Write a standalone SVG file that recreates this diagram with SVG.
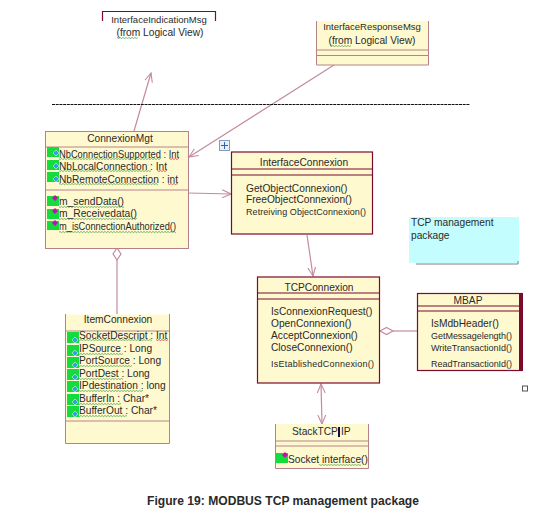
<svg xmlns="http://www.w3.org/2000/svg" width="555" height="521" viewBox="0 0 555 521">
<style>
text{font-family:"Liberation Sans",Arial,sans-serif;font-size:10.200px;fill:#2a2a2a}
.c{text-anchor:middle}
.box{fill:#fff9cf;stroke:#b5828c;stroke-width:1}
.dk{fill:#fff9cf;stroke:#7a0a30;stroke-width:1.2}
.dv{stroke:#b5828c;stroke-width:1;fill:none}
.dd{stroke:#7a0a30;stroke-width:1.2;fill:none}
.ln{stroke:#c48a9f;stroke-width:1.2;fill:none}
.g{fill:#14dc3c}
.b{fill:#30a0e0;stroke:#fff;stroke-width:.5}
.m{fill:#c010b0}
.w{fill:url(#wg)}
.r{fill:url(#wr)}
.s{font-size:9px}
</style>
<defs>
<marker id="a" markerWidth="10" markerHeight="10" refX="9" refY="5" orient="auto-start-reverse" markerUnits="userSpaceOnUse"><path d="M0,1 L9,5 L0,9" fill="none" stroke="#c48a9f" stroke-width="1.1"/></marker>
<path id="bi" d="M0,-3 L3,0 L0,3 L-3,0Z"/>
<pattern id="wg" patternUnits="userSpaceOnUse" width="3" height="2"><path d="M0,1.500 L1.500,.5 L3,1.500" fill="none" stroke="#3a9a3a" stroke-width=".7"/></pattern>
<pattern id="wr" patternUnits="userSpaceOnUse" width="3" height="2"><path d="M0,1.500 L1.500,.5 L3,1.500" fill="none" stroke="#d02020" stroke-width=".7"/></pattern>
</defs>
<rect width="555" height="521" fill="#fff"/>
<g id="connectors">
<path class="ln" d="M134,131 L151,73" marker-end="url(#a)"/>
<path class="ln" d="M334,65 L189,157" marker-end="url(#a)"/>
<path class="ln" d="M188,193 L231,194" marker-end="url(#a)"/>
<path class="ln" d="M307,235 L313,276" marker-end="url(#a)"/>
<path class="ln" d="M117,260 V314"/>
<path class="ln" d="M117,248 L121,254 L117,260 L113,254Z" fill="#fff"/>
<path class="ln" d="M393,331 H417"/>
<path class="ln" d="M380,331 L386.500,327.500 L393,331 L386.500,334.500Z" fill="#fff"/>
<path class="ln" d="M321,384 L322,424" marker-start="url(#a)" marker-end="url(#a)"/>
</g>
<path id="divider" d="M52,104.500 H470" stroke="#111" stroke-width="1" stroke-dasharray="3 .7" fill="none"/>
<g id="InterfaceIndicationMsg">
<path class="dd" d="M102.500,21 V11.500 H215.500 V21"/>
<text class="c" x="159" y="23" style="font-size:9.500px">InterfaceIndicationMsg</text>
<rect class="w" x="117" y="37" width="21" height="2"/>
<text class="c" x="160" y="36">(from Logical View)</text>
</g>
<g id="InterfaceResponseMsg">
<rect x="317" y="21" width="111" height="44" fill="#fff9cf"/>
<path class="dv" d="M316.500,21 V65 H428.500 V21 M316.500,50 H428.500 M316.500,55.500 H428.500"/>
<text class="c" x="372" y="30" style="font-size:9.500px">InterfaceResponseMsg</text>
<rect class="w" x="330" y="45" width="21" height="2"/>
<text class="c" x="372" y="44">(from Logical View)</text>
</g>
<g id="ConnexionMgt">
<rect class="box" x="45.500" y="131.500" width="143" height="117"/>
<path class="dv" d="M45.500,147 H188.500 M45.500,190 H188.500"/>
<text class="c" x="120" y="142">ConnexionMgt</text>
<rect class="g" x="47" y="147" width="12" height="10"/><rect class="g" x="47" y="160" width="12" height="10"/><rect class="g" x="47" y="172" width="12" height="10"/>
<use href="#bi" class="b" x="56" y="153"/><use href="#bi" class="b" x="56" y="166"/><use href="#bi" class="b" x="56" y="179"/>
<rect class="w" x="59" y="158" width="102" height="2"/><rect class="r" x="169" y="158" width="10" height="2"/>
<rect class="w" x="59" y="170" width="92" height="2"/><rect class="r" x="157" y="170" width="10" height="2"/>
<rect class="w" x="59" y="183" width="99" height="2"/><rect class="r" x="168" y="183" width="10" height="2"/>
<text x="59" y="157.500" textLength="120" lengthAdjust="spacingAndGlyphs">NbConnectionSupported : Int</text>
<text x="59" y="169.500" textLength="108" lengthAdjust="spacingAndGlyphs">NbLocalConnection : Int</text>
<text x="59" y="182.500" textLength="119" lengthAdjust="spacingAndGlyphs">NbRemoteConnection : int</text>
<rect class="g" x="47" y="196" width="12" height="10"/><rect class="g" x="47" y="209" width="12" height="10"/><rect class="g" x="47" y="221" width="12" height="9"/>
<use href="#bi" class="m" x="55" y="198"/><use href="#bi" class="m" x="55" y="211"/><use href="#bi" class="m" x="55" y="223"/>
<rect class="w" x="59" y="206" width="65" height="2"/><rect class="w" x="59" y="218" width="78" height="2"/><rect class="w" x="59" y="231" width="117" height="2"/>
<text x="59" y="205" textLength="65" lengthAdjust="spacingAndGlyphs">m_sendData()</text>
<text x="59" y="217" textLength="78" lengthAdjust="spacingAndGlyphs">m_Receivedata()</text>
<text x="59" y="230" textLength="117" lengthAdjust="spacingAndGlyphs">m_isConnectionAuthorized()</text>
</g>
<g id="moveHandle">
<rect x="219.500" y="140.500" width="10" height="10" fill="#e8eef8" stroke="#8899bb"/>
<path d="M224.500,142 V149 M221,145.500 H228" stroke="#3060b0" stroke-width="1"/>
</g>
<g id="InterfaceConnexion">
<rect class="dk" x="231.500" y="152" width="141" height="82"/>
<path class="dd" d="M231.500,169 H372.500 M231.500,175 H372.500"/>
<text class="c" x="304" y="166">InterfaceConnexion</text>
<text x="246" y="192">GetObjectConnexion()</text>
<text x="246" y="203">FreeObjectConnexion()</text>
<text x="246" y="215" class="s" textLength="120">Retreiving ObjectConnexion()</text>
</g>
<g id="note">
<rect x="409" y="217" width="110" height="46" fill="#c4fdfd"/>
<path d="M416,264 H518 V261" stroke="#8a7a8a" fill="none"/>
<text x="411" y="226">TCP management</text>
<text x="411" y="239">package</text>
</g>
<g id="TCPConnexion">
<rect class="dk" x="257.500" y="277" width="122" height="106"/>
<path class="dd" d="M257.500,293 H379.500 M257.500,299 H379.500"/>
<text class="c" x="319" y="291">TCPConnexion</text>
<text x="271" y="315">IsConnexionRequest()</text>
<text x="271" y="327">OpenConnexion()</text>
<text x="271" y="339">AcceptConnexion()</text>
<text x="271" y="351">CloseConnexion()</text>
<text x="271" y="367" class="s" textLength="103">IsEtablishedConnexion()</text>
</g>
<g id="MBAP">
<rect class="dk" x="417.500" y="293.500" width="104" height="77"/>
<rect x="519" y="293" width="4" height="78" fill="#7a0a30"/>
<path class="dd" d="M417.500,306 H520 M417.500,311 H520"/>
<text class="c" x="468" y="304">MBAP</text>
<text x="431" y="327">IsMdbHeader()</text>
<text x="431" y="339" class="s" textLength="81">GetMessagelength()</text>
<text x="431" y="351" class="s" textLength="81">WriteTransactionId()</text>
<text x="431" y="367" class="s" textLength="81">ReadTransactionId()</text>
<rect x="522.500" y="386" width="5" height="5" fill="#fff" stroke="#555"/>
</g>
<g id="ItemConnexion">
<rect x="65.500" y="314.500" width="104" height="129" fill="#fff9cf"/>
<path class="dv" d="M65.500,314 V443.500 H169.500 V314 M65.500,331 H169.500 M65.500,421 H169.500"/>
<text class="c" x="118" y="323">ItemConnexion</text>
<rect class="g" x="67" y="332" width="12" height="11"/><rect class="g" x="67" y="345" width="12" height="11"/><rect class="g" x="67" y="357" width="12" height="11"/><rect class="g" x="67" y="369" width="12" height="11"/><rect class="g" x="67" y="381" width="12" height="11"/><rect class="g" x="67" y="394" width="12" height="11"/><rect class="g" x="67" y="406" width="12" height="11"/>
<use href="#bi" class="b" x="75" y="340"/><use href="#bi" class="b" x="75" y="353"/><use href="#bi" class="b" x="75" y="365"/><use href="#bi" class="b" x="75" y="377"/><use href="#bi" class="b" x="75" y="389"/><use href="#bi" class="b" x="75" y="402"/><use href="#bi" class="b" x="75" y="414"/>
<rect class="w" x="79" y="339" width="73" height="2"/><rect class="r" x="156" y="339" width="12" height="2"/>
<rect class="w" x="79" y="353" width="44" height="2"/><rect class="w" x="79" y="365" width="53" height="2"/><rect class="w" x="79" y="378" width="44" height="2"/><rect class="w" x="79" y="390" width="64" height="2"/><rect class="w" x="79" y="403" width="42" height="2"/><rect class="w" x="79" y="415" width="48" height="2"/>
<text x="79" y="338.500">SocketDescript : Int</text>
<text x="79" y="352">IPSource : Long</text>
<text x="79" y="364">PortSource : Long</text>
<text x="79" y="377">PortDest : Long</text>
<text x="79" y="389">IPdestination : long</text>
<text x="79" y="402">BufferIn : Char*</text>
<text x="79" y="414">BufferOut : Char*</text>
</g>
<g id="StackTCPIP">
<rect x="276" y="424" width="92" height="44" fill="#fff9cf"/>
<path class="dv" d="M275.500,424 V468.500 H368.500 V424 M275.500,441 H368.500 M275.500,446 H368.500"/>
<text x="292" y="435">StackTCP</text>
<rect x="338" y="427" width="2" height="10" fill="#101040"/>
<text x="341" y="435">IP</text>
<rect class="g" x="276" y="453" width="12" height="10"/>
<use href="#bi" class="m" x="285" y="455"/>
<rect class="w" x="319" y="464" width="42" height="2"/>
<text x="288" y="463">Socket interface()</text>
</g>
<text id="caption" class="c" x="283" y="505" style="font-size:12.100px;font-weight:bold">Figure 19: MODBUS TCP management package</text>
</svg>
